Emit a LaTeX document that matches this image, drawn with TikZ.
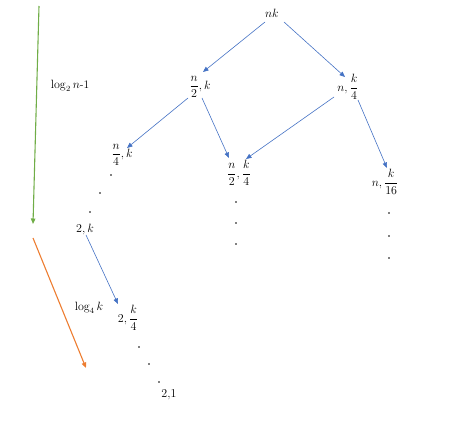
\documentclass[tikz,border=0pt]{standalone}
\usepackage{amsmath}
\usetikzlibrary{arrows.meta}
\definecolor{offblue}{RGB}{68,114,196}
\definecolor{offgreen}{RGB}{112,173,71}
\definecolor{offorange}{RGB}{237,125,49}
\tikzset{
  lbl/.style={inner sep=0pt, font=\fontsize{11.5}{13}\selectfont},
  edge/.style={draw=offblue, line width=0.6pt, -{Triangle[length=5.5pt,width=4.5pt]}},
  dotn/.style={circle, fill=black, inner sep=0pt, minimum size=1.8pt},
  bigarrow/.style={line width=1.1pt, -{Triangle[length=5.5pt,width=4.5pt]}}
}
\begin{document}
\begin{tikzpicture}[x=1pt,y=-1pt]
\useasboundingbox (0,0) rectangle (474,427);
% labels
\node[lbl] (nk) at (272,13) {$nk$};
\node[lbl] (a) at (200,87) {$\dfrac{n}{2},k$};
\node[lbl] (b) at (348,87) {$n,\dfrac{k}{4}$};
\node[lbl] (c) at (122,155) {$\dfrac{n}{4},k$};
\node[lbl] (d) at (239,173) {$\dfrac{n}{2},\dfrac{k}{4}$};
\node[lbl] (e) at (385,182) {$n,\dfrac{k}{16}$};
\node[lbl] (f) at (85,230) {$2,k$};
\node[lbl] (g) at (128,318) {$2,\dfrac{k}{4}$};
\node[lbl] (h) at (169,395) {$2{,}1$};
\node[lbl] (t1) at (70,86) {$\log_2 n$-1};
\node[lbl] (t2) at (89,308) {$\log_4 k$};
% tree edges
\coordinate (nkL) at (265,22); \coordinate (aT) at (203,72);
\coordinate (nkR) at (284,22); \coordinate (bT) at (345,77);
\coordinate (aL) at (188,98); \coordinate (cT) at (127,148);
\coordinate (aR) at (202,98); \coordinate (dTL) at (229,158);
\coordinate (bL) at (334,97); \coordinate (dTR) at (246,159);
\coordinate (bR) at (358,100); \coordinate (eT) at (387,168);
\coordinate (fB) at (86,235); \coordinate (gT) at (118,304);
\draw[edge] (nkL) -- (aT);
\draw[edge] (nkR) -- (bT);
\draw[edge] (aL) -- (cT);
\draw[edge] (aR) -- (dTL);
\draw[edge] (bL) -- (dTR);
\draw[edge] (bR) -- (eT);
\draw[edge] (fB) -- (gT);
% side arrows
\coordinate (gs) at (39,6); \coordinate (ge) at (33,224);
\coordinate (os) at (33,238); \coordinate (oe) at (86,368);
\draw[bigarrow, offgreen] (gs) -- (ge);
\draw[bigarrow, offorange] (os) -- (oe);
% dots
\foreach \p [count=\i] in {(111,175),(100,193),(90,212),
  (236,202),(236,223),(236,244),
  (389,213),(389,236),(389,258),
  (139,347),(149,364),(159,382)}
  \node[dotn] (dot\i) at \p {};
\end{tikzpicture}
\end{document}
